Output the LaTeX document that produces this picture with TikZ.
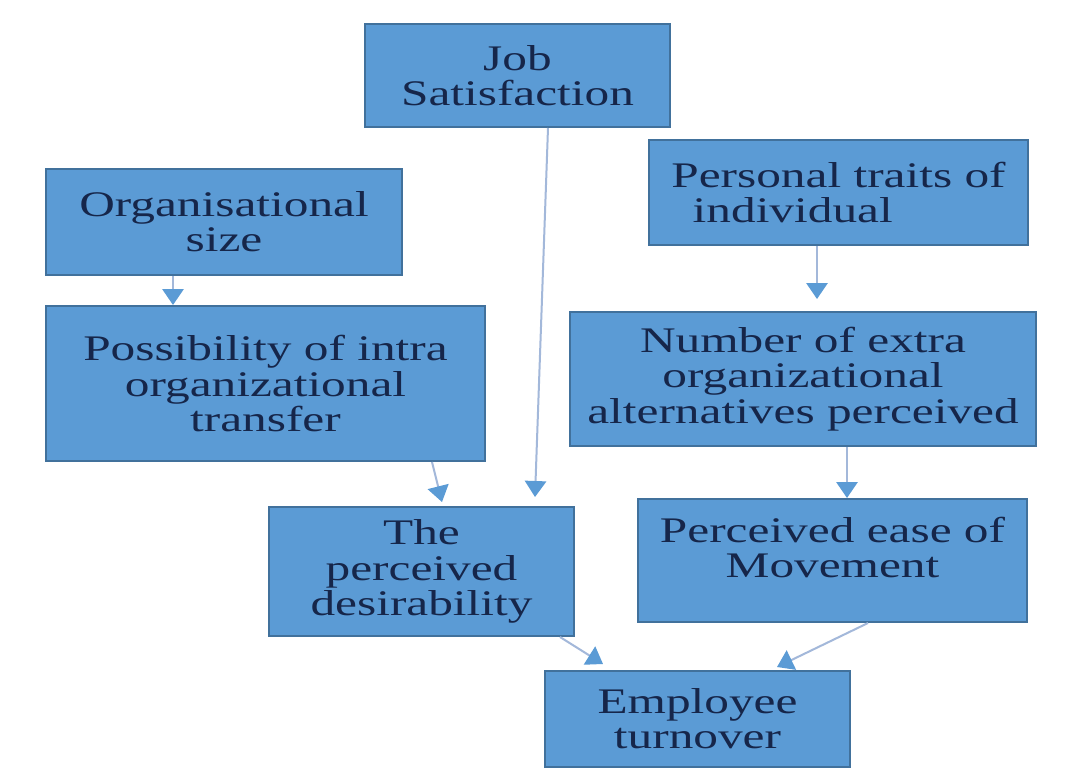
\documentclass[tikz,border=0pt]{standalone}
\usepackage{fontspec}
\setmainfont{Liberation Serif}[FakeStretch=1.37]
\usetikzlibrary{arrows.meta}
\definecolor{boxfill}{HTML}{5B9BD5}
\definecolor{boxline}{HTML}{41719C}
\definecolor{txtcol}{HTML}{16264A}
\definecolor{conncol}{HTML}{A3B8DA}
\tikzset{
  box/.style={draw=boxline, fill=boxfill, line width=1.5pt, inner sep=0pt,
    align=center, text=txtcol, font=\fontsize{27}{26.5}\selectfont},
  conn/.style={draw=conncol, line width=1.5pt,
    -{Triangle[width=16pt,length=12pt,fill=boxfill,color=boxfill]}}
}
\begin{document}
\begin{tikzpicture}[x=0.75pt,y=-0.75pt]
\useasboundingbox (0,0) rectangle (1065,772);
\fill[white] (0,0) rectangle (1065,772);

\node[box, minimum width=228.75pt, minimum height=77.25pt] (job) at (517.5,75.5) {Job\\Satisfaction};
\node[box, minimum width=267pt, minimum height=79.5pt] (org) at (224,222) {Organisational\\size};
\node[box, minimum width=284.25pt, minimum height=78.75pt, align=left] (pers) at (838.5,192.5) {Personal traits of\\\hspace*{16pt}individual};
\node[box, minimum width=329.25pt, minimum height=116.25pt] (poss) at (265.5,383.5) {Possibility of intra\\organizational\\transfer};
\node[box, minimum width=349.5pt, minimum height=100.5pt] (num) at (803,379) {Number of extra\\organizational\\alternatives perceived};
\node[box, minimum width=291.75pt, minimum height=92.25pt, text depth=19.5pt] (ease) at (832.5,560.5) {Perceived ease of\\Movement};
\node[box, minimum width=228.75pt, minimum height=96.75pt] (des) at (421.5,571.5) {The\\perceived\\desirability};
\node[box, minimum width=228.75pt, minimum height=72pt] (emp) at (697.5,719) {Employee\\turnover};

\coordinate (xa) at (173,0);
\coordinate (xb) at (817,0);
\coordinate (xc) at (847,0);
\coordinate (xd) at (432,0);
\coordinate (xe) at (548,0);
\coordinate (xf) at (560,0);
\coordinate (xg) at (868,0);
\coordinate (tipd) at (442,502);
\coordinate (tipe) at (535,497);
\coordinate (tipf) at (603,664);
\coordinate (tipg) at (777,667);

\draw[conn] (org.south -| xa) -- (poss.north -| xa);
\draw[conn, shorten >=9pt] (pers.south -| xb) -- (num.north -| xb);
\draw[conn] (num.south -| xc) -- (ease.north -| xc);
\draw[conn] (poss.south -| xd) -- (tipd);
\draw[conn] (job.south -| xe) -- (tipe);
\draw[conn] (des.south -| xf) -- (tipf);
\draw[conn] (ease.south -| xg) -- (tipg);
\end{tikzpicture}
\end{document}
